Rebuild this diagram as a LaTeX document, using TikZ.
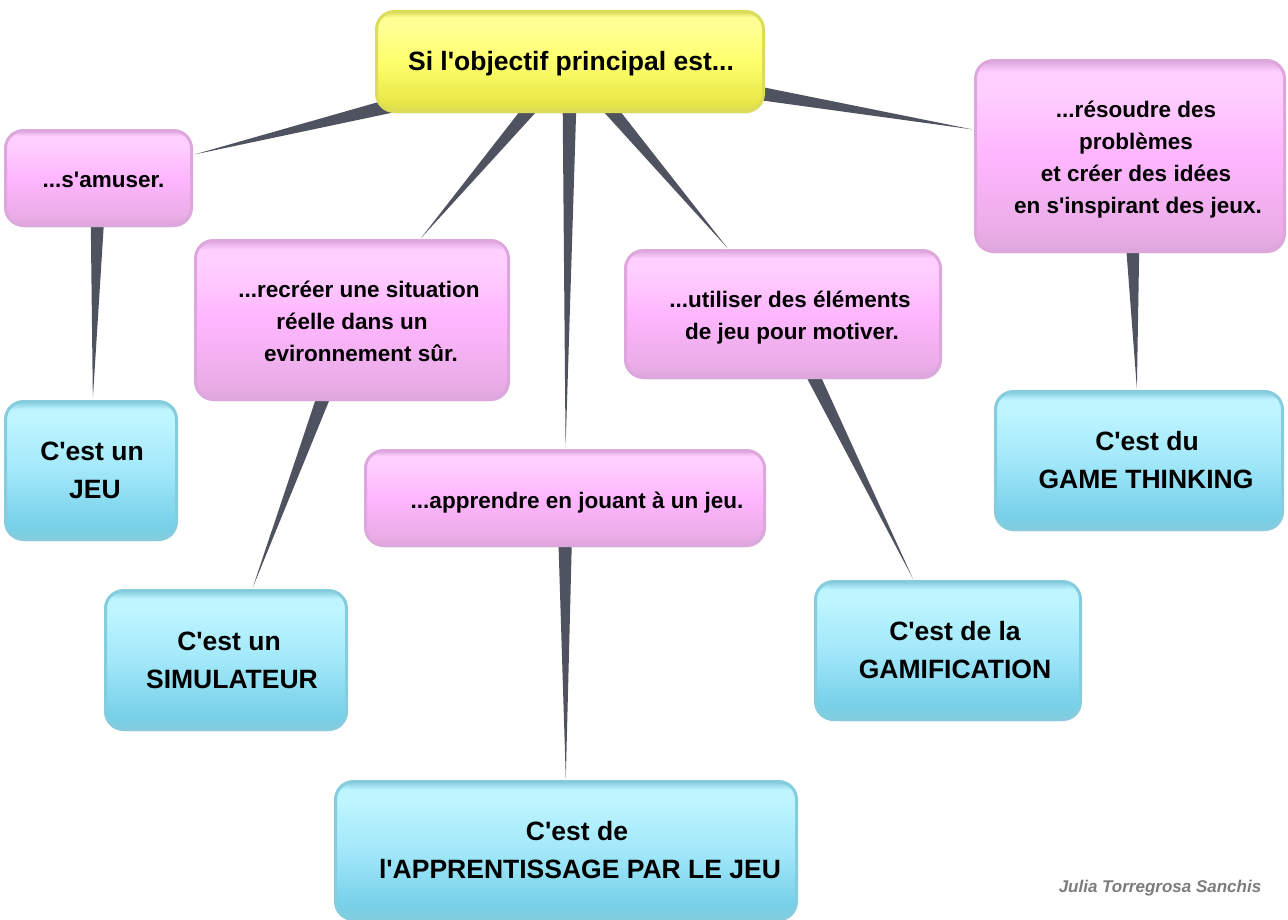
\documentclass[tikz,border=0pt]{standalone}
\usepackage{fontspec}
\setmainfont{Liberation Sans}[Ligatures=TeXOff]
\usetikzlibrary{calc,backgrounds,shadows}

\definecolor{spikegray}{HTML}{4F5360}
\definecolor{pinkline}{HTML}{DDA6DD}
\definecolor{pinklow}{HTML}{EAACE6}
\definecolor{pinkmid}{HTML}{FFB6FF}
\definecolor{pinkhigh}{HTML}{FFD0FF}
\definecolor{blueline}{HTML}{84CCDE}
\definecolor{bluelow}{HTML}{76D0E8}
\definecolor{bluemid}{HTML}{A2E8FA}
\definecolor{bluehigh}{HTML}{BEF5FF}
\definecolor{yellowline}{HTML}{DCDC58}
\definecolor{yellowlow}{HTML}{E8E846}
\definecolor{yellowmid}{HTML}{FFFF6E}
\definecolor{yellowhigh}{HTML}{FFFF96}
\definecolor{signgray}{HTML}{7C7C7C}

\pgfdeclareverticalshading{pinkfill}{100bp}{color(0bp)=(pinkline); color(25bp)=(pinkline); color(30bp)=(pinklow); color(50bp)=(pinkmid); color(68bp)=(pinkhigh); color(72bp)=(pinkhigh); color(75bp)=(pinkline); color(100bp)=(pinkline)}
\pgfdeclareverticalshading{bluefill}{100bp}{color(0bp)=(blueline); color(25bp)=(blueline); color(30bp)=(bluelow); color(50bp)=(bluemid); color(68bp)=(bluehigh); color(72bp)=(bluehigh); color(75bp)=(blueline); color(100bp)=(blueline)}
\pgfdeclareverticalshading{yellowfill}{100bp}{color(0bp)=(yellowline); color(25bp)=(yellowline); color(30bp)=(yellowlow); color(50bp)=(yellowmid); color(68bp)=(yellowhigh); color(72bp)=(yellowhigh); color(75bp)=(yellowline); color(100bp)=(yellowline)}

\newcommand{\lift}{0pt}
\tikzset{
	box/.style={rounded corners=18pt, line width=3pt, outer sep=0pt, align=center,
		drop shadow={opacity=0.12, shadow xshift=1pt, shadow yshift=-2pt}},
	rootbox/.style={box, draw=yellowline, shading=yellowfill, font=\bfseries\fontsize{26.5}{32}\selectfont},
	pinkbox/.style={box, draw=pinkline, shading=pinkfill, font=\bfseries\fontsize{22.5}{32}\selectfont},
	bluebox/.style={box, draw=blueline, shading=bluefill, font=\bfseries\fontsize{26.5}{38}\selectfont},
	drop/.style={execute at begin node={\renewcommand{\lift}{-#1pt}}},
	spike/.style={fill=spikegray}
}
% one line of a box, moved sideways from the middle by #1
\newcommand{\ligne}[2]{\raisebox{\lift}[\height][\depth]{\makebox[0pt]{\hspace*{#1pt}\hspace*{#1pt}#2}}}

\begin{document}
\begin{tikzpicture}[x=1pt, y=-1pt]
	\useasboundingbox (0,0) rectangle (1288,919);

	\node[rootbox, drop=2, minimum width=387, minimum height=100] (root) at (570,61.5) {\ligne{1}{Si l'objectif principal est...}};

	\node[pinkbox, drop=2, minimum width=186, minimum height=95] (amuser) at (98.5,178) {\ligne{5}{...s'amuser.}};
	\node[pinkbox, drop=1, minimum width=313, minimum height=159] (recreer) at (352,320) {\ligne{7}{...recréer une situation}\\ \ligne{0}{réelle dans un}\\ \ligne{9}{evironnement sûr.}};
	\node[pinkbox, drop=5, minimum width=399, minimum height=95] (apprendre) at (565,498) {\ligne{12}{...apprendre en jouant à un jeu.}};
	\node[pinkbox, drop=4, minimum width=315, minimum height=127] (utiliser) at (783,314) {\ligne{7}{...utiliser des éléments}\\ \ligne{9}{de jeu pour motiver.}};
	\node[pinkbox, drop=3.5, minimum width=309, minimum height=191] (resoudre) at (1130,156) {\ligne{6}{...résoudre des}\\ \ligne{6}{problèmes}\\ \ligne{6}{et créer des idées}\\ \ligne{8}{en s'inspirant des jeux.}};

	\node[bluebox, minimum width=171, minimum height=138] (jeu) at (91,470.5) {\ligne{1}{C'est un}\\ \ligne{4}{JEU}};
	\node[bluebox, minimum width=241, minimum height=139] (simulateur) at (226,660) {\ligne{3}{C'est un}\\ \ligne{6}{SIMULATEUR}};
	\node[bluebox, minimum width=461, minimum height=138] (apprentissage) at (566,850.5) {\ligne{11}{C'est de}\\ \ligne{14}{l'APPRENTISSAGE PAR LE JEU}};
	\node[bluebox, minimum width=265, minimum height=138] (gamification) at (948,650.5) {\ligne{7}{C'est de la}\\ \ligne{7}{GAMIFICATION}};
	\node[bluebox, minimum width=287, minimum height=138] (thinking) at (1139,460.5) {\ligne{8}{C'est du}\\ \ligne{7}{GAME THINKING}};

	\node[text=signgray, font=\bfseries\itshape\fontsize{17}{20}\selectfont] (signature) at (1160,888) {Julia Torregrosa Sanchis};

	\begin{scope}[on background layer]
		\foreach \from/\to in {root/amuser, root/recreer, root/apprendre, root/utiliser, root/resoudre, amuser/jeu, recreer/simulateur, apprendre/apprentissage, utiliser/gamification, resoudre/thinking} {
			\path (\from) -- (\to) coordinate[pos=0] (base) coordinate[pos=1] (end);
			\coordinate (inner) at ($(base)!-14pt!(end)$);
			\coordinate (tip) at ($(end)!3pt!(base)$);
			\fill[spike] ($(inner)!7pt!90:(tip)$) -- (tip) -- ($(inner)!7pt!-90:(tip)$) -- cycle;
		}
	\end{scope}
\end{tikzpicture}
\end{document}
